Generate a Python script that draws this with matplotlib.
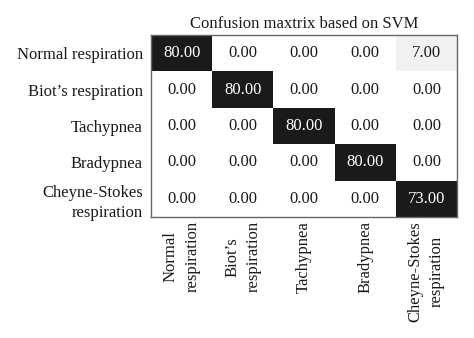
import numpy as np
import matplotlib
matplotlib.use("Agg")
import matplotlib.pyplot as plt
from matplotlib.colors import LinearSegmentedColormap

plt.rcParams['font.family'] = ['Liberation Serif', 'DejaVu Serif']

row_labels = ["Normal respiration", "Biot\u2019s respiration", "Tachypnea",
              "Bradypnea", "Cheyne-Stokes\nrespiration"]
col_labels = ["Normal\nrespiration", "Biot\u2019s\nrespiration", "Tachypnea",
              "Bradypnea", "Cheyne-Stokes\nrespiration"]
normal_row = [80.0, 0.0, 0.0, 0.0, 7.0]
biot_row = [0.0, 80.0, 0.0, 0.0, 0.0]
tachy_row = [0.0, 0.0, 80.0, 0.0, 0.0]
brady_row = [0.0, 0.0, 0.0, 80.0, 0.0]
cheyne_row = [0.0, 0.0, 0.0, 0.0, 73.0]
title = "Confusion maxtrix based on SVM"

matrix = np.array([normal_row, biot_row, tachy_row, brady_row, cheyne_row])

# white-to-black map that stays pale for small counts and saturates early
cmap = LinearSegmentedColormap.from_list(
    "wk", [(0.0, "#ffffff"), (0.1, "#efefef"), (0.85, "#1a1a1a"), (1.0, "#1a1a1a")])

fig = plt.figure(figsize=(4.74, 3.38), dpi=100)
ax = fig.add_axes([151 / 474, 1 - 217 / 338, (457 - 151) / 474, (217 - 35) / 338])
ax.imshow(matrix, cmap=cmap, vmin=0, vmax=80, aspect="auto", interpolation="nearest")

for i in range(matrix.shape[0]):
    for j in range(matrix.shape[1]):
        v = matrix[i, j]
        ax.text(j, i, f"{v:.2f}", ha="center", va="center", fontsize=12,
                color="white" if v > 40 else "#1a1a1a")

ax.set_xticks(range(len(col_labels)))
ax.set_xticklabels(col_labels, rotation=90, fontsize=12, linespacing=1.45)
ax.set_yticks(range(len(row_labels)))
ax.set_yticklabels(row_labels, fontsize=12, linespacing=1.35)
ax.tick_params(axis="x", length=0, pad=3, colors="#1a1a1a")
ax.tick_params(axis="y", length=0, pad=6, colors="#1a1a1a")
for s in ax.spines.values():
    s.set_color("#666666")
    s.set_linewidth(1.0)
ax.set_title(title, fontsize=12, pad=5, color="#1a1a1a")

fig.savefig("out.png", dpi=100)
